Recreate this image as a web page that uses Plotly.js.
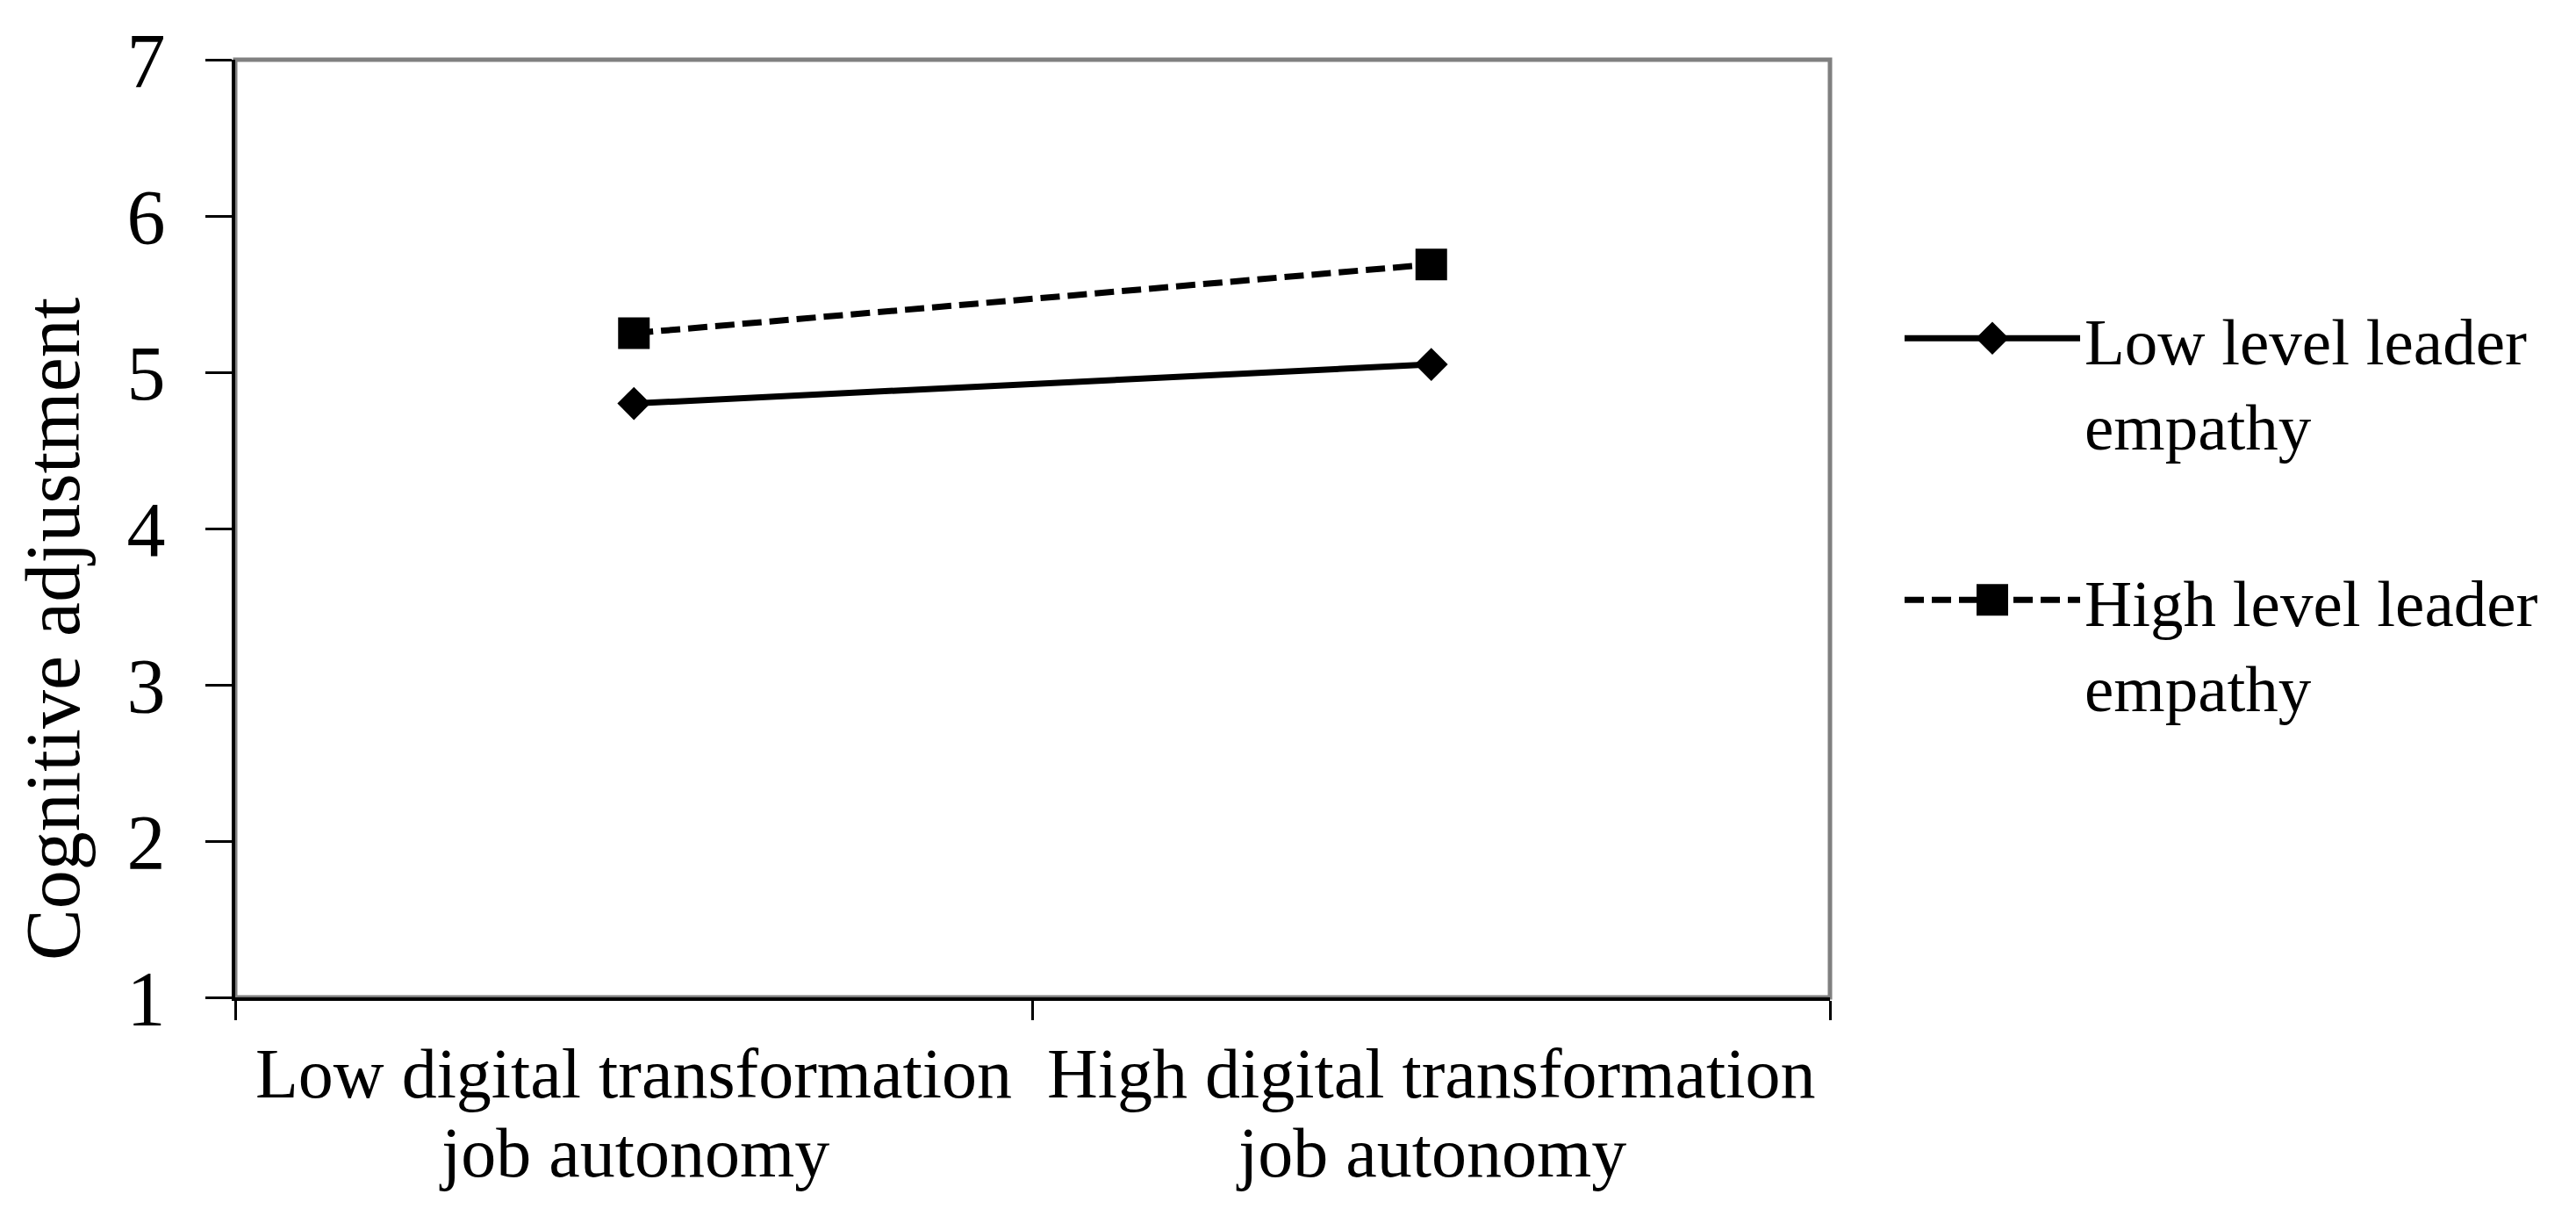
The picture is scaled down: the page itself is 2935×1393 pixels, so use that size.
<!DOCTYPE html>
<html><head><meta charset="utf-8">
<script src="https://cdn.plot.ly/plotly-3.0.1.min.js"></script>
<style>html,body{margin:0;padding:0;background:#fff}</style>
</head><body>
<div id="chart" style="width:2935px;height:1393px"></div>
<script>
const categories = ['Low digital transformation<br>job autonomy', 'High digital transformation<br>job autonomy'];
const seriesNames = ['Low level leader<br>empathy', 'High level leader<br>empathy'];
const lowEmpathy = [4.80, 5.05];
const highEmpathy = [5.25, 5.69];
const yTicks = [1, 2, 3, 4, 5, 6, 7];
const yTitle = 'Cognitive adjustment';
const FONT = 'Liberation Serif, Times New Roman, serif';

const traces = [
  {type:'scatter', mode:'lines+markers', x:categories, y:lowEmpathy, name:seriesNames[0], legendgroup:'a',
   line:{color:'#000', width:7, dash:'solid'},
   marker:{symbol:'diamond', size:29, color:'#000', line:{width:0}}},
  {type:'scatter', mode:'lines+markers', x:categories, y:highEmpathy, name:seriesNames[1], legendgroup:'b',
   line:{color:'#000', width:7, dash:'22px,9px'},
   marker:{symbol:'square', size:36, color:'#000', line:{width:0}}}
];

// category labels drawn line by line (tighter line spacing than Plotly tick labels)
const labelLineY = [-0.0815, -0.1657];
const catAnnotations = [];
categories.forEach(function(c){
  c.split('<br>').forEach(function(line, j){
    catAnnotations.push({text:line, xref:'x', yref:'paper', x:c, y:labelLineY[j],
      showarrow:false, xanchor:'center', yanchor:'middle',
      font:{family:FONT, size:80, color:'#000'}});
  });
});

const layout = {
  width:2935, height:1393,
  margin:{l:268, r:850, t:68, b:257, pad:0},
  paper_bgcolor:'#fff', plot_bgcolor:'#fff',
  font:{family:FONT, color:'#000', size:80},
  showlegend:true,
  xaxis:{type:'category', range:[-0.5, 1.5], tickson:'boundaries', ticks:'outside', ticklen:22, tickwidth:3,
         tickcolor:'#000', showline:true, linecolor:'#000', linewidth:4, showgrid:false, zeroline:false,
         showticklabels:false, fixedrange:true},
  yaxis:{range:[1, 7], tickvals:yTicks, ticktext:yTicks.map(String), ticks:'outside', ticklen:30, tickwidth:3,
         tickcolor:'#000', showline:true, linecolor:'#000', linewidth:4, showgrid:false, zeroline:false,
         tickfont:{family:FONT, size:88, color:'#000'}, ticklabelstandoff:28, fixedrange:true},
  legend:{x:(2165-268)/1817, xanchor:'left', y:(1136-330)/1068, yanchor:'top',
          font:{family:FONT, size:75, color:'#000'}, itemwidth:200, tracegroupgap:100,
          traceorder:'grouped', valign:'top', bgcolor:'rgba(0,0,0,0)', borderwidth:0},
  shapes:[{type:'rect', xref:'paper', yref:'paper', x0:0, x1:1, y0:0, y1:1,
           line:{color:'#808080', width:5}, layer:'below'}],
  annotations:[{text:yTitle, xref:'paper', yref:'paper', x:(60-268)/1817, y:(1136-717)/1068,
                textangle:-90, showarrow:false, font:{family:FONT, size:88, color:'#000'},
                xanchor:'center', yanchor:'middle'}].concat(catAnnotations)
};

Plotly.newPlot('chart', traces, layout, {displayModeBar:false, staticPlot:true}).then(function(gd){
  const groups = gd.querySelectorAll('.legend .traces');
  groups.forEach(function(g, i){
    const s = traces[i].marker.size / 16;
    g.querySelectorAll('.legendpoints path').forEach(function(p){
      const t = p.getAttribute('transform') || '';
      p.setAttribute('transform', t + ' scale(' + s + ')');
    });
  });
});
</script>
</body></html>
